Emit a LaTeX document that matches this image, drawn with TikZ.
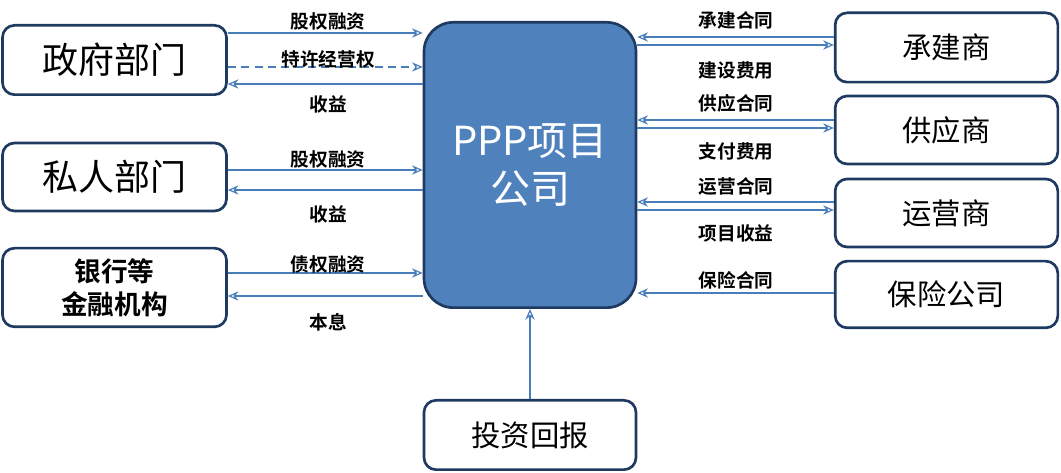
\documentclass[tikz,border=0pt]{standalone}
\usepackage{fontspec}
\setmainfont{Noto Sans CJK SC}
\newfontfamily\boldcjk{Noto Sans CJK SC Bold}
\usetikzlibrary{arrows.meta}
\definecolor{bd}{HTML}{1F3A60}
\definecolor{fl}{HTML}{4F81BD}
\definecolor{ar}{HTML}{4A7EBB}
\tikzset{
 box/.style={draw=bd,line width=2pt,rounded corners=9pt,fill=white,inner sep=0pt,font=\fontsize{22}{26}\selectfont},
 conn/.style={draw=ar,line width=0.9pt,-{Stealth[length=8pt,width=7pt,open]}},
 lbl/.style={font=\boldcjk\fontsize{14}{16}\selectfont,inner sep=0pt}
}
\begin{document}
\begin{tikzpicture}[x=0.75pt,y=-0.75pt]
\useasboundingbox (0,0) rectangle (1061,473);
\node[box,minimum width=168pt,minimum height=52pt,font=\fontsize{27}{30}\selectfont] (gov) at (114.5,60) {政府部门};
\node[box,minimum width=168pt,minimum height=51pt,font=\fontsize{27}{30}\selectfont] (pri) at (114.5,177) {私人部门};
\node[box,minimum width=168pt,minimum height=59pt,align=center,font=\fontsize{20}{25}\selectfont] (bank) at (114.5,287.5) {\boldcjk 银行等\\\boldcjk 金融机构};
\node[box,draw=bd,fill=fl,rounded corners=22pt,minimum width=159pt,minimum height=214pt,text=white,align=center,font=\fontsize{30}{36}\selectfont] (ppp) at (530,165) {PPP项目\\公司};
\node[box,minimum width=167pt,minimum height=52pt] (cj) at (946.5,47.5) {承建商};
\node[box,minimum width=167pt,minimum height=51pt] (gy) at (946.5,130) {供应商};
\node[box,minimum width=167pt,minimum height=51pt] (yy) at (946.5,213) {运营商};
\node[box,minimum width=167pt,minimum height=50pt] (bx) at (946.5,294.5) {保险公司};
\node[box,minimum width=159pt,minimum height=52pt] (tz) at (530,435) {投资回报};
% left
\draw[conn] (gov.east|-0,33) -- (ppp.west|-0,33);
\draw[conn,dash pattern=on 6pt off 4pt] (gov.east|-0,67) -- (ppp.west|-0,67);
\draw[conn] (ppp.west|-0,84) -- (gov.east|-0,84);
\draw[conn] (pri.east|-0,170) -- (ppp.west|-0,170);
\draw[conn] (ppp.west|-0,190) -- (pri.east|-0,190);
\draw[conn] (bank.east|-0,273) -- (ppp.west|-0,273);
\draw[conn] (ppp.west|-0,296) -- (bank.east|-0,296);
\node[lbl] at (328,21) {股权融资};
\node[lbl] at (328,59) {特许经营权};
\node[lbl] at (328,104) {收益};
\node[lbl] at (328,159) {股权融资};
\node[lbl] at (328,214) {收益};
\node[lbl] at (328,264) {债权融资};
\node[lbl] at (328,322) {本息};
% right
\draw[conn] (cj.west|-0,37) -- (ppp.east|-0,37);
\draw[conn] (ppp.east|-0,45) -- (cj.west|-0,45);
\draw[conn] (gy.west|-0,120) -- (ppp.east|-0,120);
\draw[conn] (ppp.east|-0,128) -- (gy.west|-0,128);
\draw[conn] (yy.west|-0,202) -- (ppp.east|-0,202);
\draw[conn] (ppp.east|-0,210) -- (yy.west|-0,210);
\draw[conn] (bx.west|-0,293) -- (ppp.east|-0,293);
\node[lbl] at (736,20) {承建合同};
\node[lbl] at (736,70) {建设费用};
\node[lbl] at (736,103) {供应合同};
\node[lbl] at (736,151) {支付费用};
\node[lbl] at (736,186) {运营合同};
\node[lbl] at (736,233) {项目收益};
\node[lbl] at (736,280) {保险合同};
\draw[conn] (tz.north) -- (ppp.south);
\end{tikzpicture}
\end{document}
